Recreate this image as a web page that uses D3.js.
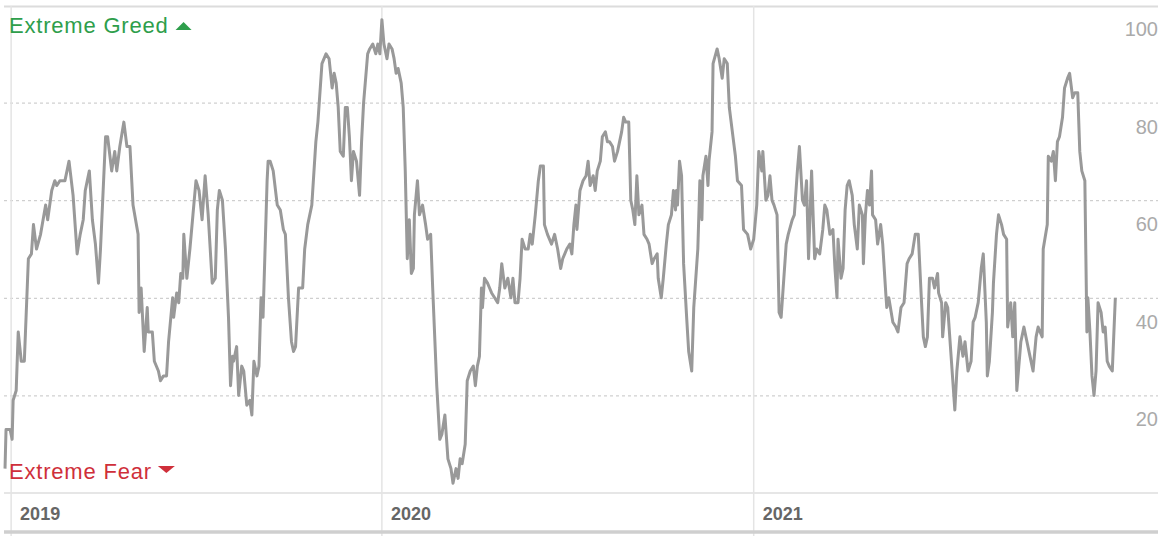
<!DOCTYPE html>
<html>
<head>
<meta charset="utf-8">
<title>Fear &amp; Greed Index</title>
<style>
  body { margin: 0; background: #fff; }
  svg { display: block; font-family: "Liberation Sans", Arial, sans-serif; }
</style>
</head>
<body>
<svg id="chart" width="1173" height="536"></svg>
<script src="https://d3js.org/d3.v7.min.js"></script>
<script>
// readings: day of year + index value, one pair of arrays per year
const days2018 = [360, 361, 363, 365]
const vals2018 = [5, 13, 13, 13]

const days2019 = [
  2, 3, 6, 8, 11, 14, 18, 21, 23, 26,
  30, 35, 37, 41, 44, 46, 49, 54, 58, 62,
  66, 69, 72, 74, 76, 78, 81, 84, 87, 89,
  94, 96, 100, 103, 105, 108, 112, 115, 118, 121,
  126, 127, 129, 132, 135, 136, 140, 142, 146, 148,
  151, 154, 156, 160, 161, 164, 166, 168, 170, 171,
  174, 177, 180, 183, 186, 189, 192, 195, 197, 199,
  202, 204, 206, 209, 212, 215, 217, 219, 220, 223,
  225, 228, 230, 233, 236, 238, 240, 243, 245, 247,
  249, 253, 254, 256, 259, 263, 266, 269, 271, 274,
  277, 279, 281, 284, 288, 290, 293, 297, 301, 303,
  307, 311, 314, 317, 319, 321, 323, 325, 328, 330,
  332, 334, 336, 338, 341, 344, 346, 348, 352, 354,
  357, 360, 362, 364]
const vals2019 = [
  11, 19, 21, 33, 27, 27, 48, 49, 55, 50,
  53, 59, 56, 62, 64, 63, 64, 64, 68, 61,
  49, 53, 56, 62, 64, 66, 56, 51, 43, 50,
  73, 73, 66, 70, 66, 71, 76, 71, 71, 59,
  53, 37, 42, 29, 38, 33, 33, 27, 25, 23,
  24, 24, 31, 40, 36, 41, 39, 45, 44, 53,
  44, 50, 57, 64, 62, 56, 65, 57, 50, 43,
  44, 58, 62, 60, 50, 36, 22, 28, 27, 30,
  20, 26, 25, 18, 19, 16, 27, 24, 26, 40,
  36, 64, 68, 68, 66, 59, 58, 54, 53, 40,
  31, 29, 30, 42, 42, 50, 55, 59, 72, 76,
  88, 90, 89, 83, 86, 84, 79, 70, 69, 79,
  79, 73, 64, 70, 68, 61, 72, 80, 90, 91,
  92, 90, 92, 90]

const days2020 = [
  1, 3, 6, 8, 11, 13, 15, 17, 20, 22,
  24, 26, 28, 30, 32, 33, 36, 38, 41, 44,
  46, 49, 51, 55, 58, 60, 63, 66, 69, 71,
  74, 76, 78, 80, 83, 85, 88, 91, 93, 95,
  97, 99, 100, 102, 105, 107, 109, 112, 115, 117,
  119, 122, 125, 128, 130, 132, 135, 137, 139, 142,
  145, 147, 149, 152, 155, 157, 160, 161, 164, 168,
  171, 174, 177, 179, 183, 186, 188, 190, 192, 193,
  196, 199, 202, 204, 206, 209, 211, 213, 216, 218,
  221, 223, 225, 228, 230, 233, 237, 239, 241, 244,
  246, 248, 250, 252, 254, 257, 259, 262, 264, 267,
  269, 272, 273, 276, 278, 281, 283, 286, 288, 290,
  291, 292, 294, 296, 298, 301, 303, 306, 308, 312,
  314, 316, 317, 320, 322, 323, 326, 327, 331, 333,
  336, 338, 341, 343, 346, 349, 351, 355, 357, 361,
  364]
const vals2020 = [
  97, 92, 89, 92, 91, 89, 86, 87, 84, 79,
  66, 48, 56, 45, 46, 57, 64, 57, 59, 55,
  52, 53, 42, 22, 11, 12, 16, 7, 5, 2,
  5, 3, 7, 6, 10, 23, 25, 26, 22, 26,
  28, 42, 38, 44, 43, 42, 41, 40, 39, 42,
  47, 42, 44, 40, 44, 39, 39, 44, 52, 50,
  50, 53, 51, 57, 64, 67, 67, 55, 53, 51,
  53, 50, 46, 48, 50, 51, 49, 55, 59, 54,
  62, 64, 65, 68, 63, 65, 62, 66, 68, 73,
  74, 72, 72, 71, 68, 70, 74, 77, 76, 76,
  60, 58, 55, 65, 57, 59, 53, 52, 51, 47,
  48, 49, 44, 40, 44, 51, 55, 57, 62, 58,
  62, 59, 68, 65, 47, 36, 29, 25, 38, 50,
  64, 56, 65, 69, 63, 68, 74, 88, 91, 89,
  85, 89, 88, 79, 74, 69, 64, 63, 54, 53,
  50]

const days2021 = [
  1, 4, 6, 9, 10, 13, 15, 17, 19, 21,
  24, 26, 28, 30, 33, 35, 39, 41, 44, 46,
  49, 51, 53, 55, 58, 61, 63, 66, 69, 71,
  73, 76, 79, 81, 83, 84, 87, 89, 91, 93,
  95, 98, 100, 103, 105, 108, 109, 111, 113, 115,
  117, 118, 121, 123, 126, 128, 131, 132, 134, 138,
  141, 143, 146, 149, 152, 154, 157, 160, 163, 166,
  168, 170, 172, 174, 177, 179, 182, 183, 186, 187,
  190, 192, 194, 197, 199, 201, 204, 207, 209, 212,
  215, 217, 219, 222, 225, 227, 230, 231, 233, 236,
  237, 240, 242, 245, 247, 250, 251, 254, 256, 258,
  260, 264, 267, 270, 273, 276, 279, 281, 285, 286,
  290, 291, 294, 296, 298, 300, 302, 305, 307, 310,
  312, 315, 317, 320, 322, 324, 327, 329, 330, 332,
  334, 336, 338, 340, 343, 345, 347, 349, 351, 354,
  357]
const vals2021 = [
  52, 59, 70, 66, 70, 60, 61, 65, 60, 59,
  57, 37, 36, 42, 51, 53, 56, 57, 66, 71,
  60, 59, 64, 48, 66, 48, 50, 49, 54, 59,
  58, 53, 54, 46, 40, 52, 44, 46, 58, 63,
  64, 61, 55, 50, 59, 57, 47, 57, 62, 59,
  66, 57, 56, 51, 55, 51, 41, 38, 40, 35,
  34, 33, 38, 39, 47, 48, 49, 53, 53, 40,
  32, 30, 32, 44, 44, 42, 45, 41, 39, 32,
  39, 38, 32, 23, 17, 25, 32, 28, 31, 25,
  27, 35, 36, 39, 46, 49, 35, 24, 27, 37,
  43, 53, 57, 55, 53, 52, 34, 39, 32, 39,
  21, 31, 34, 31, 28, 25, 32, 34, 32, 50,
  55, 69, 68, 70, 64, 72, 73, 77, 83, 85,
  86, 81, 82, 82, 70, 66, 64, 33, 40, 33,
  24, 20, 25, 39, 37, 33, 34, 27, 26, 25,
  40]

const yTicks = [20, 40, 60, 80, 100]
const yearLabels = ["2019", "2020", "2021"]
const greedLabel = "Extreme Greed"
const fearLabel = "Extreme Fear"

let svg = d3.select("#chart")
let plotLeft = 4, plotRight = 1158, plotTop = 5, plotBottom = 493

let data = [
  [2018, days2018, vals2018],
  [2019, days2019, vals2019],
  [2020, days2020, vals2020],
  [2021, days2021, vals2021]
].flatMap(([yr, days, vals]) =>
  days.map((d, i) => ({ date: new Date(yr, 0, d), value: vals[i] })))

let x = d3.scaleTime()
  .domain([new Date(2018, 11, 25), new Date(2022, 1, 3)])
  .range([plotLeft, plotRight])
let y = d3.scaleLinear()
  .domain([0, 100])
  .range([plotBottom, plotTop])

// horizontal grid
svg.selectAll(".grid")
  .data(yTicks.filter(t => t < 100))
  .enter()
  .append("line")
  .attr("x1", plotLeft).attr("x2", plotRight)
  .attr("y1", d => y(d) + 0.5).attr("y2", d => y(d) + 0.5)
  .attr("stroke", "#c4c4c4")
  .attr("stroke-dasharray", "3,3")

// top and bottom frame lines
svg.append("line")
  .attr("x1", plotLeft).attr("x2", plotRight)
  .attr("y1", y(100) + 1.5).attr("y2", y(100) + 1.5)
  .attr("stroke", "#dcdcdc").attr("stroke-width", 2)
svg.append("line")
  .attr("x1", plotLeft).attr("x2", plotRight)
  .attr("y1", y(0)).attr("y2", y(0))
  .attr("stroke", "#e6e6e6").attr("stroke-width", 2)

// year lines
let years = yearLabels.map(s => new Date(+s, 0, 1))
svg.selectAll(".year-line")
  .data(years)
  .enter()
  .append("line")
  .attr("x1", d => x(d)).attr("x2", d => x(d))
  .attr("y1", y(100) + 1).attr("y2", 536)
  .attr("stroke", "#e4e4e4").attr("stroke-width", 1.5)

svg.selectAll(".year-label")
  .data(years)
  .enter()
  .append("text")
  .attr("x", d => x(d) + 9)
  .attr("y", 519.5)
  .attr("font-size", 18)
  .attr("font-weight", "bold")
  .attr("fill", "#666")
  .text((d, i) => yearLabels[i])

svg.append("line")
  .attr("x1", plotLeft).attr("x2", plotRight)
  .attr("y1", 532).attr("y2", 532)
  .attr("stroke", "#cfcfcf").attr("stroke-width", 3.5)

// right side labels, hanging under their line
svg.selectAll(".y-label")
  .data(yTicks)
  .enter()
  .append("text")
  .attr("x", plotRight)
  .attr("y", d => y(d) + 31)
  .attr("text-anchor", "end")
  .attr("font-size", 20)
  .attr("fill", "#aaa")
  .text(d => d)

let line = d3.line()
  .x(d => x(d.date))
  .y(d => y(d.value))

svg.append("path")
  .datum(data)
  .attr("d", line)
  .attr("fill", "none")
  .attr("stroke", "#999")
  .attr("stroke-width", 3)
  .attr("stroke-linejoin", "round")

// extreme labels
let greed = svg.append("text")
  .attr("x", 9).attr("y", 33)
  .attr("font-size", 22)
  .attr("letter-spacing", 0.8)
  .attr("fill", "#2e9e4b")
  .text(greedLabel)
let gx = 9 + greed.node().getComputedTextLength() + 7
svg.append("path")
  .attr("d", `M${gx},30 L${gx + 16},30 L${gx + 8},22 Z`)
  .attr("fill", "#2e9e4b")

let fear = svg.append("text")
  .attr("x", 9).attr("y", 479)
  .attr("font-size", 22)
  .attr("letter-spacing", 0.8)
  .attr("fill", "#cf2f3a")
  .text(fearLabel)
let fx = 9 + fear.node().getComputedTextLength() + 6
svg.append("path")
  .attr("d", `M${fx},466 L${fx + 17},466 L${fx + 8.5},473 Z`)
  .attr("fill", "#cf2f3a")
</script>
</body>
</html>
